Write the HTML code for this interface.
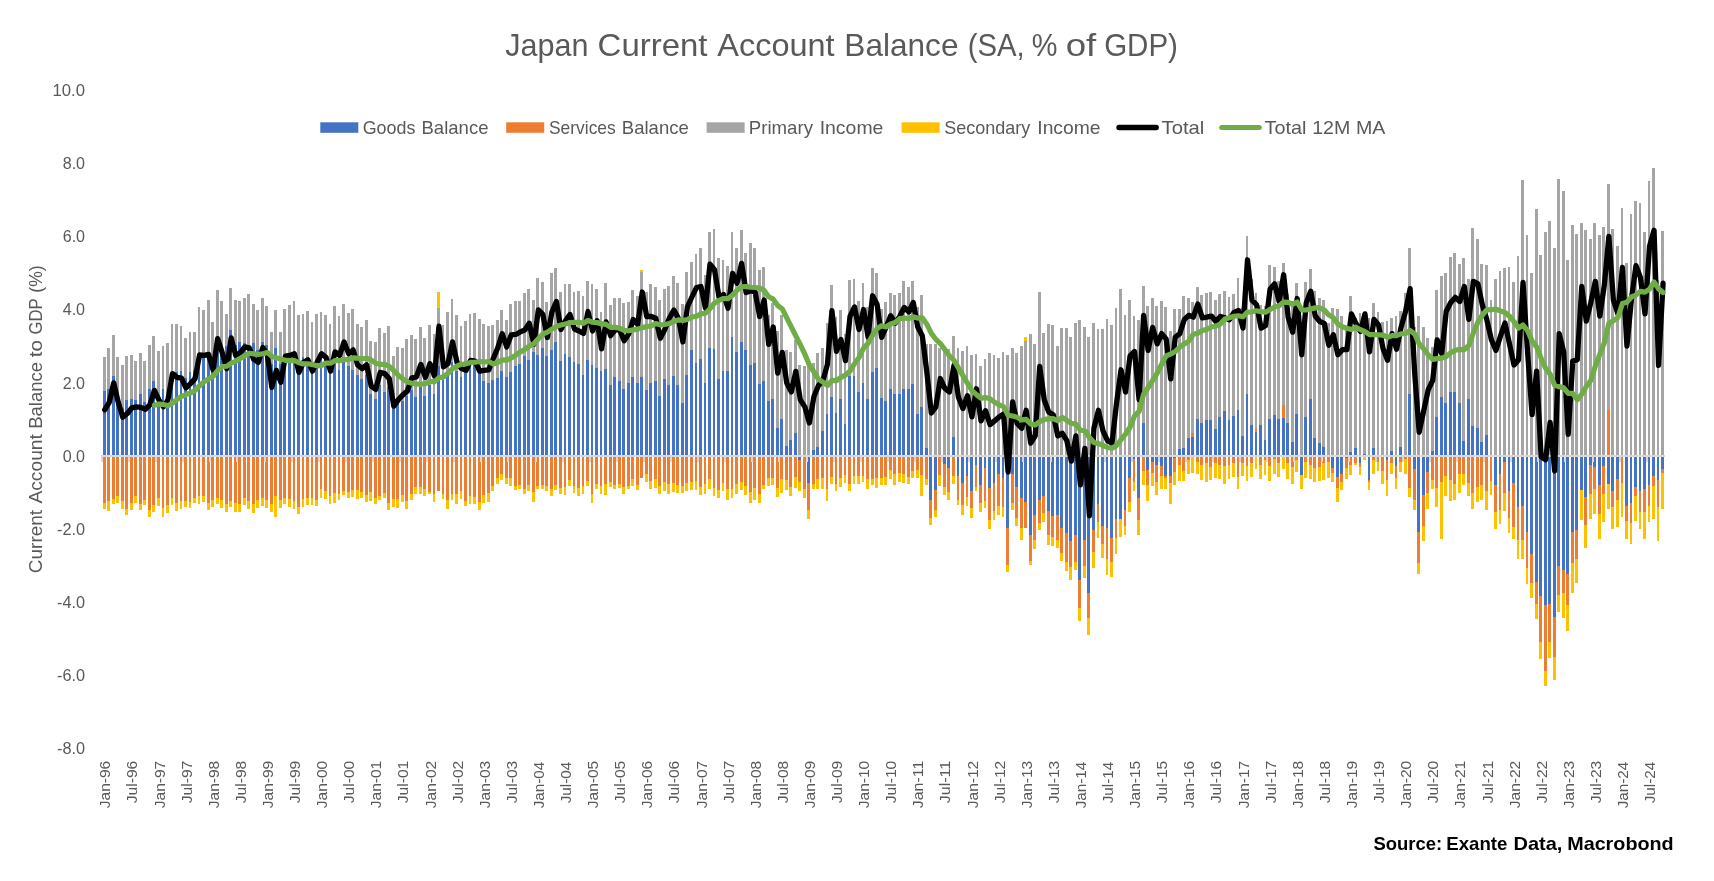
<!DOCTYPE html>
<html><head><meta charset="utf-8"><title>Japan Current Account Balance</title>
<style>
html,body{margin:0;padding:0;background:#fff;}
body{width:1714px;height:881px;overflow:hidden;font-family:"Liberation Sans",sans-serif;}
svg{display:block;font-family:"Liberation Sans",sans-serif;will-change:transform;}
</style></head><body>
<svg width="1714" height="881" viewBox="0 0 1714 881">
<rect width="1714" height="881" fill="#fff"/>
<g font-size="31.2" fill="#595959"><text x="505.2" y="56" textLength="83.22" lengthAdjust="spacingAndGlyphs">Japan</text><text x="597.64" y="56" textLength="109.9" lengthAdjust="spacingAndGlyphs">Current</text><text x="717.3" y="56" textLength="117.35" lengthAdjust="spacingAndGlyphs">Account</text><text x="844.38" y="56" textLength="114.09" lengthAdjust="spacingAndGlyphs">Balance</text><text x="967.66" y="56" textLength="57.05" lengthAdjust="spacingAndGlyphs">(SA,</text><text x="1031.77" y="56" textLength="25.7" lengthAdjust="spacingAndGlyphs">%</text><text x="1065.72" y="56" textLength="30.58" lengthAdjust="spacingAndGlyphs">of</text><text x="1104.15" y="56" textLength="73.76" lengthAdjust="spacingAndGlyphs">GDP)</text></g>
<g font-size="15.6" fill="#595959"><text x="52.53" y="96.25" textLength="32.52" lengthAdjust="spacingAndGlyphs">10.0</text><text x="62.7" y="169.33" textLength="22.36" lengthAdjust="spacingAndGlyphs">8.0</text><text x="62.7" y="242.41" textLength="22.36" lengthAdjust="spacingAndGlyphs">6.0</text><text x="62.7" y="315.49" textLength="22.36" lengthAdjust="spacingAndGlyphs">4.0</text><text x="62.7" y="388.57" textLength="22.36" lengthAdjust="spacingAndGlyphs">2.0</text><text x="62.7" y="461.65" textLength="22.36" lengthAdjust="spacingAndGlyphs">0.0</text><text x="57" y="534.73" textLength="28.06" lengthAdjust="spacingAndGlyphs">-2.0</text><text x="57" y="607.81" textLength="28.06" lengthAdjust="spacingAndGlyphs">-4.0</text><text x="57" y="680.89" textLength="28.06" lengthAdjust="spacingAndGlyphs">-6.0</text><text x="57" y="753.97" textLength="28.06" lengthAdjust="spacingAndGlyphs">-8.0</text></g>
<g transform="translate(41.7 573.4) rotate(-90)" font-size="17.7" fill="#595959"><text x="0.2" y="0" textLength="63.31" lengthAdjust="spacingAndGlyphs">Current</text><text x="69.9" y="0" textLength="69.31" lengthAdjust="spacingAndGlyphs">Account</text><text x="144.55" y="0" textLength="66.98" lengthAdjust="spacingAndGlyphs">Balance</text><text x="216.1" y="0" textLength="17.21" lengthAdjust="spacingAndGlyphs">to</text><text x="238.9" y="0" textLength="36.25" lengthAdjust="spacingAndGlyphs">GDP</text><text x="280.7" y="0" textLength="27.38" lengthAdjust="spacingAndGlyphs">(%)</text></g>
<g font-size="19" fill="#595959"><rect x="320.3" y="122.3" width="38" height="10.5" fill="#4472C4"/><rect x="506.2" y="122.3" width="38" height="10.5" fill="#ED7D31"/><rect x="706.6" y="122.3" width="38" height="10.5" fill="#A5A5A5"/><rect x="901.6" y="122.3" width="38" height="10.5" fill="#FFC000"/><path d="M1119 127.5h37.2" stroke="#000" stroke-width="5.4" stroke-linecap="round" fill="none"/><path d="M1221.7 127.5h37.6" stroke="#70AD47" stroke-width="5" stroke-linecap="round" fill="none"/><text x="362.7" y="134.3" textLength="52.77" lengthAdjust="spacingAndGlyphs">Goods</text><text x="421.53" y="134.3" textLength="66.93" lengthAdjust="spacingAndGlyphs">Balance</text><text x="549" y="134.3" textLength="66.76" lengthAdjust="spacingAndGlyphs">Services</text><text x="621.83" y="134.3" textLength="66.93" lengthAdjust="spacingAndGlyphs">Balance</text><text x="748.82" y="134.3" textLength="64.19" lengthAdjust="spacingAndGlyphs">Primary</text><text x="819.68" y="134.3" textLength="63.7" lengthAdjust="spacingAndGlyphs">Income</text><text x="944.2" y="134.3" textLength="86.13" lengthAdjust="spacingAndGlyphs">Secondary</text><text x="1037.28" y="134.3" textLength="63.29" lengthAdjust="spacingAndGlyphs">Income</text><text x="1161.5" y="134.3" textLength="42.8" lengthAdjust="spacingAndGlyphs">Total</text><text x="1264.5" y="134.3" textLength="41.87" lengthAdjust="spacingAndGlyphs">Total</text><text x="1312.17" y="134.3" textLength="38.08" lengthAdjust="spacingAndGlyphs">12M</text><text x="1355.97" y="134.3" textLength="29.39" lengthAdjust="spacingAndGlyphs">MA</text></g>
<path d="M103 391h3V456h-3zM107 389h3V456h-3zM112 376h3V456h-3zM116 400h3V456h-3zM121 408h3V456h-3zM125 400h3V456h-3zM130 399h3V456h-3zM134 400h3V456h-3zM139 394h3V456h-3zM143 402h3V456h-3zM148 389h3V456h-3zM152 381h3V456h-3zM157 395h3V456h-3zM162 389h2V456h-2zM166 399h3V456h-3zM171 375h2V456h-2zM175 372h3V456h-3zM180 371h2V456h-2zM184 378h3V456h-3zM189 372h2V456h-2zM193 370h3V456h-3zM198 355h2V456h-2zM202 357h3V456h-3zM207 353h3V456h-3zM211 365h3V456h-3zM216 340h3V456h-3zM220 350h3V456h-3zM225 346h3V456h-3zM229 330h3V456h-3zM234 345h3V456h-3zM238 342h3V456h-3zM243 343h3V456h-3zM247 347h3V456h-3zM252 343h3V456h-3zM256 350h3V456h-3zM261 342h3V456h-3zM265 345h3V456h-3zM270 364h3V456h-3zM274 348h3V456h-3zM279 364h3V456h-3zM283 357h3V456h-3zM288 357h3V456h-3zM293 355h2V456h-2zM297 360h3V456h-3zM302 357h2V456h-2zM306 357h3V456h-3zM311 365h2V456h-2zM315 362h3V456h-3zM320 357h2V456h-2zM324 360h3V456h-3zM329 365h2V456h-2zM333 355h3V456h-3zM338 370h2V456h-2zM342 362h3V456h-3zM347 366h3V456h-3zM351 370h3V456h-3zM356 375h3V456h-3zM360 379h3V456h-3zM365 375h3V456h-3zM369 394h3V456h-3zM374 399h3V456h-3zM378 385h3V456h-3zM383 392h3V456h-3zM387 387h3V456h-3zM392 405h3V456h-3zM396 404h3V456h-3zM401 401h3V456h-3zM405 396h3V456h-3zM410 390h3V456h-3zM414 397h3V456h-3zM419 387h3V456h-3zM423 396h3V456h-3zM428 385h3V456h-3zM433 394h2V456h-2zM437 366h3V456h-3zM442 380h2V456h-2zM446 371h3V456h-3zM451 362h2V456h-2zM455 371h3V456h-3zM460 377h2V456h-2zM464 372h3V456h-3zM469 365h2V456h-2zM473 364h3V456h-3zM478 370h3V456h-3zM482 381h3V456h-3zM487 383h3V456h-3zM491 380h3V456h-3zM496 378h3V456h-3zM500 371h3V456h-3zM505 377h3V456h-3zM509 372h3V456h-3zM514 366h3V456h-3zM518 364h3V456h-3zM523 356h3V456h-3zM527 360h3V456h-3zM532 352h3V456h-3zM536 355h3V456h-3zM541 348h3V456h-3zM545 356h3V456h-3zM550 350h3V456h-3zM554 342h3V456h-3zM559 361h3V456h-3zM564 354h2V456h-2zM568 357h3V456h-3zM573 362h2V456h-2zM577 364h3V456h-3zM582 375h2V456h-2zM586 360h3V456h-3zM591 365h2V456h-2zM595 368h3V456h-3zM600 371h2V456h-2zM604 369h3V456h-3zM609 385h3V456h-3zM613 377h3V456h-3zM618 381h3V456h-3zM622 389h3V456h-3zM627 383h3V456h-3zM631 377h3V456h-3zM636 383h3V456h-3zM640 377h3V456h-3zM645 390h3V456h-3zM649 383h3V456h-3zM654 381h3V456h-3zM658 396h3V456h-3zM663 379h3V456h-3zM667 385h3V456h-3zM672 376h3V456h-3zM676 385h3V456h-3zM681 403h3V456h-3zM685 375h3V456h-3zM690 350h3V456h-3zM695 363h2V456h-2zM699 359h3V456h-3zM704 383h2V456h-2zM708 348h3V456h-3zM713 349h2V456h-2zM717 379h3V456h-3zM722 371h2V456h-2zM726 371h3V456h-3zM731 337h2V456h-2zM735 352h3V456h-3zM740 342h3V456h-3zM744 350h3V456h-3zM749 365h3V456h-3zM753 363h3V456h-3zM758 384h3V456h-3zM762 381h3V456h-3zM767 401h3V456h-3zM771 399h3V456h-3zM776 428h3V456h-3zM780 419h3V456h-3zM785 446h3V456h-3zM789 440h3V456h-3zM794 433h3V456h-3zM798 456h3V460h-3zM807 456h3V483h-3zM812 450h3V456h-3zM816 447h3V456h-3zM821 431h3V456h-3zM826 414h2V456h-2zM830 397h3V456h-3zM835 413h2V456h-2zM839 399h3V456h-3zM844 424h2V456h-2zM848 376h3V456h-3zM853 376h2V456h-2zM857 392h3V456h-3zM862 383h2V456h-2zM866 399h3V456h-3zM871 372h3V456h-3zM875 368h3V456h-3zM880 398h3V456h-3zM884 401h3V456h-3zM889 389h3V456h-3zM893 394h3V456h-3zM898 394h3V456h-3zM902 389h3V456h-3zM907 389h3V456h-3zM911 384h3V456h-3zM916 414h3V456h-3zM920 407h3V456h-3zM925 448h3V456h-3zM929 456h3V500h-3zM934 456h3V490h-3zM943 456h3V464h-3zM947 456h3V468h-3zM952 437h3V456h-3zM957 456h2V476h-2zM961 456h3V483h-3zM966 456h2V476h-2zM970 456h3V491h-3zM975 456h2V465h-2zM979 456h3V485h-3zM984 456h2V468h-2zM988 456h3V488h-3zM993 456h2V483h-2zM997 456h3V474h-3zM1002 456h2V478h-2zM1006 456h3V528h-3zM1011 456h3V474h-3zM1015 456h3V487h-3zM1020 456h3V498h-3zM1024 456h3V502h-3zM1029 456h3V535h-3zM1033 456h3V515h-3zM1038 456h3V500h-3zM1042 456h3V496h-3zM1047 456h3V511h-3zM1051 456h3V516h-3zM1056 456h3V515h-3zM1060 456h3V528h-3zM1065 456h3V533h-3zM1069 456h3V541h-3zM1074 456h3V535h-3zM1078 456h3V580h-3zM1083 456h3V540h-3zM1087 456h3V593h-3zM1092 456h3V530h-3zM1097 456h2V504h-2zM1101 456h3V526h-3zM1106 456h2V528h-2zM1110 456h3V538h-3zM1115 456h2V519h-2zM1119 456h3V519h-3zM1124 456h2V510h-2zM1128 456h3V478h-3zM1133 456h2V459h-2zM1137 456h3V498h-3zM1142 423h3V456h-3zM1146 456h3V470h-3zM1151 456h3V462h-3zM1155 456h3V465h-3zM1160 456h3V466h-3zM1164 456h3V476h-3zM1169 456h3V476h-3zM1173 456h3V458h-3zM1178 449h3V456h-3zM1182 448h3V456h-3zM1187 438h3V456h-3zM1191 437h3V456h-3zM1196 419h3V456h-3zM1200 423h3V456h-3zM1205 420h3V456h-3zM1209 420h3V456h-3zM1214 429h3V456h-3zM1218 417h3V456h-3zM1223 411h3V456h-3zM1228 420h2V456h-2zM1232 416h3V456h-3zM1237 410h2V456h-2zM1241 436h3V456h-3zM1246 394h2V456h-2zM1250 425h3V456h-3zM1255 432h2V456h-2zM1259 425h3V456h-3zM1264 440h2V456h-2zM1268 419h3V456h-3zM1273 415h3V456h-3zM1277 419h3V456h-3zM1282 418h3V456h-3zM1286 423h3V456h-3zM1291 442h3V456h-3zM1295 414h3V456h-3zM1300 456h3V475h-3zM1304 417h3V456h-3zM1309 399h3V456h-3zM1313 438h3V456h-3zM1318 443h3V456h-3zM1322 447h3V456h-3zM1331 456h3V468h-3zM1336 456h3V477h-3zM1340 456h3V474h-3zM1345 456h3V458h-3zM1349 452h3V456h-3zM1354 448h3V456h-3zM1359 456h2V463h-2zM1363 454h3V456h-3zM1368 456h2V480h-2zM1372 448h3V456h-3zM1386 456h2V460h-2zM1390 451h3V456h-3zM1395 456h2V466h-2zM1399 447h3V456h-3zM1408 394h3V456h-3zM1413 456h3V469h-3zM1417 456h3V532h-3zM1422 456h3V495h-3zM1426 456h3V472h-3zM1431 451h3V456h-3zM1435 417h3V456h-3zM1440 397h3V456h-3zM1444 403h3V456h-3zM1449 392h3V456h-3zM1453 392h3V456h-3zM1458 403h3V456h-3zM1462 441h3V456h-3zM1467 399h3V456h-3zM1471 426h3V456h-3zM1476 428h3V456h-3zM1480 442h3V456h-3zM1485 435h3V456h-3zM1494 456h3V485h-3zM1499 456h2V474h-2zM1503 456h3V462h-3zM1508 456h2V491h-2zM1512 456h3V483h-3zM1517 456h2V507h-2zM1521 456h3V506h-3zM1526 456h2V532h-2zM1530 456h3V554h-3zM1535 456h3V582h-3zM1539 456h3V596h-3zM1544 456h3V605h-3zM1548 456h3V604h-3zM1553 456h3V617h-3zM1557 456h3V566h-3zM1562 456h3V570h-3zM1566 456h3V574h-3zM1571 456h3V532h-3zM1575 456h3V530h-3zM1580 456h3V490h-3zM1584 456h3V497h-3zM1589 456h3V465h-3zM1593 456h3V467h-3zM1598 456h3V485h-3zM1602 456h3V466h-3zM1607 456h3V484h-3zM1611 456h3V491h-3zM1616 456h3V479h-3zM1625 456h3V506h-3zM1630 456h2V503h-2zM1634 456h3V487h-3zM1639 456h2V491h-2zM1643 456h3V489h-3zM1648 456h2V485h-2zM1652 456h3V476h-3zM1657 456h2V480h-2zM1661 456h3V469h-3z" fill="#4472C4" shape-rendering="crispEdges"/>
<path d="M103 456h3V503h-3zM107 456h3V501h-3zM112 456h3V499h-3zM116 456h3V496h-3zM121 456h3V501h-3zM125 456h3V509h-3zM130 456h3V503h-3zM134 456h3V496h-3zM139 456h3V504h-3zM143 456h3V500h-3zM148 456h3V510h-3zM152 456h3V505h-3zM157 456h3V498h-3zM162 456h2V508h-2zM166 456h3V505h-3zM171 456h2V498h-2zM175 456h3V503h-3zM180 456h2V501h-2zM184 456h3V501h-3zM189 456h2V502h-2zM193 456h3V498h-3zM198 456h2V496h-2zM202 456h3V496h-3zM207 456h3V503h-3zM211 456h3V500h-3zM216 456h3V498h-3zM220 456h3V500h-3zM225 456h3V504h-3zM229 456h3V501h-3zM234 456h3V503h-3zM238 456h3V504h-3zM243 456h3V498h-3zM247 456h3V501h-3zM252 456h3V504h-3zM256 456h3V500h-3zM261 456h3V498h-3zM265 456h3V500h-3zM270 456h3V504h-3zM274 456h3V496h-3zM279 456h3V500h-3zM283 456h3V498h-3zM288 456h3V499h-3zM293 456h2V501h-2zM297 456h3V507h-3zM302 456h2V499h-2zM306 456h3V498h-3zM311 456h2V498h-2zM315 456h3V500h-3zM320 456h2V489h-2zM324 456h3V491h-3zM329 456h2V496h-2zM333 456h3V493h-3zM338 456h2V494h-2zM342 456h3V491h-3zM347 456h3V492h-3zM351 456h3V490h-3zM356 456h3V490h-3zM360 456h3V492h-3zM365 456h3V495h-3zM369 456h3V492h-3zM374 456h3V498h-3zM378 456h3V496h-3zM383 456h3V493h-3zM387 456h3V503h-3zM392 456h3V499h-3zM396 456h3V499h-3zM401 456h3V495h-3zM405 456h3V501h-3zM410 456h3V494h-3zM414 456h3V487h-3zM419 456h3V487h-3zM423 456h3V489h-3zM428 456h3V492h-3zM433 456h2V494h-2zM437 456h3V491h-3zM442 456h2V494h-2zM446 456h3V500h-3zM451 456h2V494h-2zM455 456h3V494h-3zM460 456h2V491h-2zM464 456h3V501h-3zM469 456h2V496h-2zM473 456h3V497h-3zM478 456h3V502h-3zM482 456h3V495h-3zM487 456h3V493h-3zM491 456h3V486h-3zM496 456h3V478h-3zM500 456h3V474h-3zM505 456h3V478h-3zM509 456h3V478h-3zM514 456h3V486h-3zM518 456h3V485h-3zM523 456h3V489h-3zM527 456h3V485h-3zM532 456h3V492h-3zM536 456h3V486h-3zM541 456h3V485h-3zM545 456h3V486h-3zM550 456h3V489h-3zM554 456h3V485h-3zM559 456h3V488h-3zM564 456h2V487h-2zM568 456h3V480h-3zM573 456h2V486h-2zM577 456h3V488h-3zM582 456h2V486h-2zM586 456h3V481h-3zM591 456h2V494h-2zM595 456h3V484h-3zM600 456h2V486h-2zM604 456h3V484h-3zM609 456h3V482h-3zM613 456h3V485h-3zM618 456h3V484h-3zM622 456h3V487h-3zM627 456h3V486h-3zM631 456h3V479h-3zM636 456h3V485h-3zM640 456h3V478h-3zM645 456h3V474h-3zM649 456h3V481h-3zM654 456h3V479h-3zM658 456h3V486h-3zM663 456h3V482h-3zM667 456h3V484h-3zM672 456h3V483h-3zM676 456h3V485h-3zM681 456h3V486h-3zM685 456h3V483h-3zM690 456h3V482h-3zM695 456h2V481h-2zM699 456h3V487h-3zM704 456h2V484h-2zM708 456h3V479h-3zM713 456h2V488h-2zM717 456h3V490h-3zM722 456h2V483h-2zM726 456h3V489h-3zM731 456h2V489h-2zM735 456h3V484h-3zM740 456h3V482h-3zM744 456h3V486h-3zM749 456h3V492h-3zM753 456h3V488h-3zM758 456h3V494h-3zM762 456h3V485h-3zM767 456h3V478h-3zM771 456h3V478h-3zM776 456h3V488h-3zM780 456h3V479h-3zM785 456h3V480h-3zM789 456h3V487h-3zM794 456h3V477h-3zM798 460h3V482h-3zM803 456h3V489h-3zM807 483h3V510h-3zM812 456h3V484h-3zM816 456h3V479h-3zM821 456h3V478h-3zM826 456h2V489h-2zM830 456h3V477h-3zM835 456h2V484h-2zM839 456h3V478h-3zM844 456h2V475h-2zM848 456h3V484h-3zM853 456h2V476h-2zM857 456h3V476h-3zM862 456h2V476h-2zM866 456h3V479h-3zM871 456h3V479h-3zM875 456h3V478h-3zM880 456h3V478h-3zM884 456h3V477h-3zM889 456h3V470h-3zM893 456h3V474h-3zM898 456h3V473h-3zM902 456h3V474h-3zM907 456h3V477h-3zM911 456h3V471h-3zM916 456h3V470h-3zM920 456h3V475h-3zM925 456h3V479h-3zM929 500h3V518h-3zM934 490h3V510h-3zM938 456h3V475h-3zM943 464h3V487h-3zM947 468h3V492h-3zM952 456h3V476h-3zM957 476h2V500h-2zM961 483h3V505h-3zM966 476h2V497h-2zM970 491h3V508h-3zM975 465h2V487h-2zM979 485h3V503h-3zM984 468h2V501h-2zM988 488h3V520h-3zM993 483h2V511h-2zM997 474h3V506h-3zM1002 478h2V507h-2zM1006 528h3V565h-3zM1011 474h3V503h-3zM1015 487h3V518h-3zM1020 498h3V528h-3zM1024 502h3V528h-3zM1029 535h3V561h-3zM1033 515h3V540h-3zM1038 500h3V523h-3zM1042 496h3V513h-3zM1047 511h3V535h-3zM1051 516h3V537h-3zM1056 515h3V540h-3zM1060 528h3V553h-3zM1065 533h3V562h-3zM1069 541h3V567h-3zM1074 535h3V562h-3zM1078 580h3V608h-3zM1083 540h3V566h-3zM1087 593h3V618h-3zM1092 530h3V552h-3zM1097 504h2V522h-2zM1101 526h3V544h-3zM1106 528h2V559h-2zM1110 538h3V562h-3zM1115 519h2V538h-2zM1124 510h2V526h-2zM1128 478h3V502h-3zM1133 459h2V482h-2zM1137 498h3V520h-3zM1142 456h3V471h-3zM1146 470h3V485h-3zM1151 462h3V473h-3zM1155 465h3V482h-3zM1160 466h3V476h-3zM1164 476h3V478h-3zM1169 476h3V483h-3zM1173 458h3V472h-3zM1178 456h3V465h-3zM1182 456h3V471h-3zM1187 456h3V460h-3zM1191 433h3V437h-3zM1196 456h3V462h-3zM1200 456h3V465h-3zM1205 456h3V463h-3zM1209 456h3V467h-3zM1214 456h3V463h-3zM1218 456h3V465h-3zM1223 456h3V466h-3zM1228 456h2V465h-2zM1232 456h3V463h-3zM1237 456h2V477h-2zM1241 456h3V463h-3zM1246 456h2V466h-2zM1250 456h3V463h-3zM1255 428h2V432h-2zM1259 456h3V465h-3zM1264 456h2V460h-2zM1268 456h3V466h-3zM1273 456h3V459h-3zM1277 456h3V463h-3zM1282 405h3V418h-3zM1286 456h3V463h-3zM1291 456h3V467h-3zM1295 456h3V460h-3zM1304 456h3V462h-3zM1309 456h3V465h-3zM1313 456h3V468h-3zM1318 456h3V467h-3zM1322 456h3V463h-3zM1327 456h3V462h-3zM1331 468h3V473h-3zM1336 477h3V488h-3zM1340 474h3V482h-3zM1345 458h3V468h-3zM1349 456h3V465h-3zM1354 456h3V463h-3zM1359 463h2V467h-2zM1368 480h2V482h-2zM1372 456h3V460h-3zM1377 456h2V462h-2zM1381 456h3V471h-3zM1386 460h2V480h-2zM1390 456h3V463h-3zM1395 466h2V478h-2zM1399 456h3V462h-3zM1404 456h3V459h-3zM1408 456h3V488h-3zM1413 469h3V500h-3zM1417 532h3V563h-3zM1422 495h3V526h-3zM1426 472h3V493h-3zM1431 456h3V480h-3zM1435 456h3V488h-3zM1440 456h3V482h-3zM1444 456h3V476h-3zM1449 456h3V480h-3zM1453 456h3V484h-3zM1458 456h3V474h-3zM1462 456h3V474h-3zM1467 456h3V483h-3zM1471 456h3V493h-3zM1476 456h3V487h-3zM1480 456h3V485h-3zM1485 456h3V491h-3zM1490 456h2V481h-2zM1494 485h3V512h-3zM1499 474h2V510h-2zM1503 462h3V493h-3zM1508 491h2V518h-2zM1512 483h3V527h-3zM1517 507h2V540h-2zM1521 506h3V540h-3zM1526 532h2V568h-2zM1530 554h3V583h-3zM1535 582h3V604h-3zM1539 596h3V642h-3zM1544 605h3V671h-3zM1548 604h3V642h-3zM1553 617h3V657h-3zM1557 566h3V595h-3zM1562 570h3V593h-3zM1566 574h3V605h-3zM1571 532h3V563h-3zM1575 530h3V559h-3zM1584 497h3V525h-3zM1589 465h3V494h-3zM1593 467h3V489h-3zM1598 485h3V514h-3zM1602 466h3V494h-3zM1607 410h3V456h-3zM1611 491h3V507h-3zM1616 479h3V500h-3zM1621 456h2V483h-2zM1625 506h3V521h-3zM1630 503h2V523h-2zM1634 487h3V496h-3zM1639 491h2V512h-2zM1643 489h3V512h-3zM1648 485h2V506h-2zM1652 476h3V486h-3zM1657 480h2V507h-2zM1661 469h3V473h-3z" fill="#ED7D31" shape-rendering="crispEdges"/>
<path d="M103 357h3V391h-3zM107 348h3V389h-3zM112 335h3V376h-3zM116 357h3V400h-3zM121 365h3V408h-3zM125 356h3V400h-3zM130 355h3V399h-3zM134 361h3V400h-3zM139 353h3V394h-3zM143 361h3V402h-3zM148 345h3V389h-3zM152 336h3V381h-3zM157 351h3V395h-3zM162 346h2V389h-2zM166 343h3V399h-3zM171 324h2V375h-2zM175 324h3V372h-3zM180 326h2V371h-2zM184 338h3V378h-3zM189 332h2V372h-2zM193 332h3V370h-3zM198 307h2V355h-2zM202 310h3V357h-3zM207 300h3V353h-3zM211 322h3V365h-3zM216 290h3V340h-3zM220 301h3V350h-3zM225 314h3V346h-3zM229 288h3V330h-3zM234 300h3V345h-3zM238 301h3V342h-3zM243 298h3V343h-3zM247 294h3V347h-3zM252 304h3V343h-3zM256 310h3V350h-3zM261 298h3V342h-3zM265 306h3V345h-3zM270 332h3V364h-3zM274 310h3V348h-3zM279 332h3V364h-3zM283 309h3V357h-3zM288 305h3V357h-3zM293 301h2V355h-2zM297 315h3V360h-3zM302 314h2V357h-2zM306 311h3V357h-3zM311 322h2V365h-2zM315 314h3V362h-3zM320 312h2V357h-2zM324 315h3V360h-3zM329 324h2V365h-2zM333 306h3V355h-3zM338 316h2V370h-2zM342 304h3V362h-3zM347 313h3V366h-3zM351 309h3V370h-3zM356 324h3V375h-3zM360 327h3V379h-3zM365 320h3V375h-3zM369 341h3V394h-3zM374 342h3V399h-3zM378 328h3V385h-3zM383 333h3V392h-3zM387 326h3V387h-3zM392 356h3V405h-3zM396 347h3V404h-3zM401 348h3V401h-3zM405 339h3V396h-3zM410 335h3V390h-3zM414 339h3V397h-3zM419 327h3V387h-3zM423 338h3V396h-3zM428 325h3V385h-3zM433 334h2V394h-2zM437 307h3V366h-3zM442 325h2V380h-2zM446 312h3V371h-3zM451 299h2V362h-2zM455 315h3V371h-3zM460 326h2V377h-2zM464 321h3V372h-3zM469 314h2V365h-2zM473 313h3V364h-3zM478 319h3V370h-3zM482 324h3V381h-3zM487 326h3V383h-3zM491 325h3V380h-3zM496 320h3V378h-3zM500 310h3V371h-3zM505 320h3V377h-3zM509 304h3V372h-3zM514 301h3V366h-3zM518 301h3V364h-3zM523 293h3V356h-3zM527 289h3V360h-3zM532 300h3V352h-3zM536 278h3V355h-3zM541 282h3V348h-3zM545 302h3V356h-3zM550 273h3V350h-3zM554 268h3V342h-3zM559 292h3V361h-3zM564 284h2V354h-2zM568 284h3V357h-3zM573 292h2V362h-2zM577 291h3V364h-3zM582 296h2V375h-2zM586 281h3V360h-3zM591 284h2V365h-2zM595 289h3V368h-3zM600 312h2V371h-2zM604 283h3V369h-3zM609 305h3V385h-3zM613 298h3V377h-3zM618 298h3V381h-3zM622 303h3V389h-3zM627 302h3V383h-3zM631 290h3V377h-3zM636 296h3V383h-3zM640 271h3V377h-3zM645 292h3V390h-3zM649 284h3V383h-3zM654 287h3V381h-3zM658 300h3V396h-3zM663 289h3V379h-3zM667 286h3V385h-3zM672 276h3V376h-3zM676 283h3V385h-3zM681 304h3V403h-3zM685 272h3V375h-3zM690 262h3V350h-3zM695 254h2V363h-2zM699 248h3V359h-3zM704 275h2V383h-2zM708 232h3V348h-3zM713 229h2V349h-2zM717 258h3V379h-3zM722 260h2V371h-2zM726 266h3V371h-3zM731 232h2V337h-2zM735 248h3V352h-3zM740 230h3V342h-3zM744 253h3V350h-3zM749 243h3V365h-3zM753 248h3V363h-3zM758 270h3V384h-3zM762 267h3V381h-3zM767 315h3V401h-3zM771 303h3V399h-3zM776 331h3V428h-3zM780 315h3V419h-3zM785 350h3V446h-3zM789 352h3V440h-3zM794 340h3V433h-3zM798 365h3V456h-3zM803 366h3V456h-3zM807 360h3V456h-3zM812 363h3V450h-3zM816 353h3V447h-3zM821 348h3V431h-3zM826 323h2V414h-2zM830 285h3V397h-3zM835 317h2V413h-2zM839 310h3V399h-3zM844 334h2V424h-2zM848 280h3V376h-3zM853 279h2V376h-2zM857 301h3V392h-3zM862 283h2V383h-2zM866 307h3V399h-3zM871 268h3V372h-3zM875 273h3V368h-3zM880 309h3V398h-3zM884 302h3V401h-3zM889 293h3V389h-3zM893 295h3V394h-3zM898 293h3V394h-3zM902 281h3V389h-3zM907 287h3V389h-3zM911 281h3V384h-3zM916 307h3V414h-3zM920 295h3V407h-3zM925 344h3V448h-3zM929 344h3V456h-3zM934 344h3V456h-3zM938 348h3V456h-3zM943 349h3V456h-3zM947 349h3V456h-3zM952 336h3V437h-3zM957 348h2V456h-2zM961 351h3V456h-3zM966 346h2V456h-2zM970 355h3V456h-3zM975 354h2V456h-2zM979 366h3V456h-3zM984 359h2V456h-2zM988 353h3V456h-3zM993 355h2V456h-2zM997 358h3V456h-3zM1002 352h2V456h-2zM1006 355h3V456h-3zM1011 348h3V456h-3zM1015 353h3V456h-3zM1020 346h3V456h-3zM1024 340h3V456h-3zM1029 334h3V456h-3zM1033 344h3V456h-3zM1038 292h3V456h-3zM1042 333h3V456h-3zM1047 324h3V456h-3zM1051 325h3V456h-3zM1056 346h3V456h-3zM1060 328h3V456h-3zM1065 328h3V456h-3zM1069 337h3V456h-3zM1074 323h3V456h-3zM1078 320h3V456h-3zM1083 327h3V456h-3zM1087 337h3V456h-3zM1092 323h3V456h-3zM1097 329h2V456h-2zM1101 329h3V456h-3zM1106 319h2V456h-2zM1110 325h3V456h-3zM1115 308h2V456h-2zM1119 289h3V456h-3zM1124 315h2V456h-2zM1128 300h3V456h-3zM1133 316h2V456h-2zM1137 320h3V456h-3zM1142 286h3V423h-3zM1146 306h3V456h-3zM1151 298h3V456h-3zM1155 306h3V456h-3zM1160 301h3V456h-3zM1164 307h3V456h-3zM1169 331h3V456h-3zM1173 309h3V456h-3zM1178 309h3V449h-3zM1182 296h3V448h-3zM1187 298h3V438h-3zM1191 302h3V433h-3zM1196 287h3V419h-3zM1200 295h3V423h-3zM1205 293h3V420h-3zM1209 292h3V420h-3zM1214 300h3V429h-3zM1218 294h3V417h-3zM1223 291h3V411h-3zM1228 297h2V420h-2zM1232 294h3V416h-3zM1237 278h2V410h-2zM1241 308h3V436h-3zM1246 236h2V394h-2zM1250 279h3V425h-3zM1255 293h2V428h-2zM1259 305h3V425h-3zM1264 306h2V440h-2zM1268 265h3V419h-3zM1273 267h3V415h-3zM1277 281h3V419h-3zM1282 263h3V405h-3zM1286 294h3V423h-3zM1291 304h3V442h-3zM1295 283h3V414h-3zM1300 322h3V456h-3zM1304 282h3V417h-3zM1309 269h3V399h-3zM1313 291h3V438h-3zM1318 298h3V443h-3zM1322 300h3V447h-3zM1327 323h3V456h-3zM1331 308h3V456h-3zM1336 309h3V456h-3zM1340 316h3V456h-3zM1345 327h3V456h-3zM1349 296h3V452h-3zM1354 318h3V448h-3zM1359 313h2V456h-2zM1363 315h3V454h-3zM1368 318h2V456h-2zM1372 303h3V448h-3zM1377 312h2V456h-2zM1381 322h3V456h-3zM1386 321h2V456h-2zM1390 318h3V451h-3zM1395 316h2V456h-2zM1399 311h3V447h-3zM1404 293h3V456h-3zM1408 248h3V394h-3zM1413 327h3V456h-3zM1417 316h3V456h-3zM1422 327h3V456h-3zM1426 338h3V456h-3zM1431 347h3V451h-3zM1435 290h3V417h-3zM1440 276h3V397h-3zM1444 273h3V403h-3zM1449 257h3V392h-3zM1453 253h3V392h-3zM1458 264h3V403h-3zM1462 258h3V441h-3zM1467 279h3V399h-3zM1471 228h3V426h-3zM1476 239h3V428h-3zM1480 264h3V442h-3zM1485 265h3V435h-3zM1490 300h2V456h-2zM1494 279h3V456h-3zM1499 271h2V456h-2zM1503 268h3V456h-3zM1508 267h2V456h-2zM1512 282h3V456h-3zM1517 256h2V456h-2zM1521 180h3V456h-3zM1526 235h2V456h-2zM1530 273h3V456h-3zM1535 209h3V456h-3zM1539 255h3V456h-3zM1544 232h3V456h-3zM1548 221h3V456h-3zM1553 248h3V456h-3zM1557 179h3V456h-3zM1562 191h3V456h-3zM1566 260h3V456h-3zM1571 225h3V456h-3zM1575 234h3V456h-3zM1580 223h3V456h-3zM1584 230h3V456h-3zM1589 239h3V456h-3zM1593 223h3V456h-3zM1598 235h3V456h-3zM1602 227h3V456h-3zM1607 184h3V410h-3zM1611 229h3V456h-3zM1616 246h3V456h-3zM1621 208h2V456h-2zM1625 263h3V456h-3zM1630 214h2V456h-2zM1634 201h3V456h-3zM1639 203h2V456h-2zM1643 232h3V456h-3zM1648 181h2V456h-2zM1652 168h3V456h-3zM1657 280h2V456h-2zM1661 231h3V456h-3z" fill="#A5A5A5" shape-rendering="crispEdges"/>
<path d="M103 503h3V509h-3zM107 501h3V511h-3zM112 499h3V504h-3zM116 496h3V503h-3zM121 501h3V509h-3zM125 509h3V515h-3zM130 503h3V510h-3zM134 496h3V503h-3zM139 504h3V510h-3zM143 500h3V505h-3zM148 510h3V517h-3zM152 505h3V512h-3zM157 498h3V506h-3zM162 508h2V517h-2zM166 505h3V513h-3zM171 498h2V505h-2zM175 503h3V511h-3zM180 501h2V509h-2zM184 501h3V507h-3zM189 502h2V508h-2zM193 498h3V503h-3zM198 496h2V504h-2zM202 496h3V502h-3zM207 503h3V510h-3zM211 500h3V507h-3zM216 498h3V504h-3zM220 500h3V508h-3zM225 504h3V512h-3zM229 501h3V507h-3zM234 503h3V512h-3zM238 504h3V512h-3zM243 498h3V505h-3zM247 501h3V509h-3zM252 504h3V513h-3zM256 500h3V508h-3zM261 498h3V506h-3zM265 500h3V508h-3zM270 504h3V512h-3zM274 496h3V517h-3zM279 500h3V508h-3zM283 498h3V504h-3zM288 499h3V507h-3zM293 501h2V509h-2zM297 507h3V514h-3zM302 499h2V507h-2zM306 498h3V505h-3zM311 498h2V505h-2zM315 500h3V506h-3zM320 489h2V498h-2zM324 491h3V499h-3zM329 496h2V504h-2zM333 493h3V503h-3zM338 494h2V500h-2zM342 491h3V495h-3zM347 492h3V498h-3zM351 490h3V497h-3zM356 490h3V499h-3zM360 492h3V498h-3zM365 495h3V502h-3zM369 492h3V501h-3zM374 498h3V504h-3zM378 496h3V500h-3zM383 493h3V498h-3zM387 503h3V510h-3zM392 499h3V507h-3zM396 499h3V508h-3zM401 495h3V502h-3zM405 501h3V509h-3zM410 494h3V500h-3zM414 487h3V494h-3zM419 487h3V494h-3zM423 489h3V496h-3zM428 492h3V494h-3zM433 494h2V502h-2zM437 292h3V308h-3zM442 494h2V499h-2zM446 500h3V509h-3zM451 494h2V500h-2zM455 494h3V504h-3zM460 491h2V499h-2zM464 501h3V506h-3zM469 496h2V504h-2zM473 497h3V504h-3zM478 502h3V510h-3zM482 495h3V503h-3zM487 493h3V502h-3zM491 486h3V491h-3zM496 478h3V484h-3zM500 474h3V480h-3zM505 478h3V484h-3zM509 478h3V486h-3zM514 486h3V490h-3zM518 485h3V489h-3zM523 489h3V494h-3zM527 485h3V491h-3zM532 492h3V502h-3zM536 486h3V489h-3zM541 485h3V489h-3zM545 486h3V491h-3zM550 489h3V496h-3zM554 485h3V490h-3zM559 488h3V494h-3zM564 487h2V495h-2zM568 480h3V486h-3zM573 486h2V493h-2zM577 488h3V496h-3zM582 486h2V494h-2zM586 481h3V486h-3zM591 494h2V503h-2zM595 484h3V489h-3zM600 486h2V494h-2zM604 484h3V495h-3zM609 482h3V487h-3zM613 485h3V489h-3zM618 484h3V488h-3zM622 487h3V494h-3zM627 486h3V489h-3zM631 479h3V486h-3zM636 485h3V490h-3zM640 270h3V272h-3zM645 474h3V482h-3zM649 481h3V489h-3zM654 479h3V488h-3zM658 486h3V494h-3zM663 482h3V491h-3zM667 484h3V494h-3zM672 483h3V492h-3zM676 485h3V493h-3zM681 486h3V493h-3zM685 483h3V491h-3zM690 482h3V490h-3zM695 481h2V490h-2zM699 487h3V495h-3zM704 484h2V494h-2zM708 479h3V489h-3zM713 488h2V496h-2zM717 490h3V498h-3zM722 483h2V491h-2zM726 489h3V500h-3zM731 489h2V498h-2zM735 484h3V494h-3zM740 482h3V490h-3zM744 486h3V495h-3zM749 492h3V503h-3zM753 488h3V500h-3zM758 494h3V503h-3zM762 485h3V489h-3zM767 478h3V486h-3zM771 478h3V485h-3zM776 488h3V497h-3zM780 479h3V493h-3zM785 480h3V490h-3zM789 487h3V496h-3zM794 477h3V488h-3zM798 482h3V491h-3zM803 489h3V498h-3zM807 510h3V519h-3zM812 484h3V489h-3zM816 479h3V489h-3zM821 478h3V489h-3zM826 489h2V501h-2zM830 477h3V484h-3zM835 484h2V491h-2zM839 478h3V487h-3zM844 475h2V483h-2zM848 484h3V491h-3zM853 476h2V484h-2zM857 476h3V484h-3zM862 476h2V482h-2zM866 479h3V489h-3zM871 479h3V485h-3zM875 478h3V488h-3zM880 478h3V485h-3zM884 477h3V485h-3zM889 470h3V479h-3zM893 474h3V485h-3zM898 473h3V482h-3zM902 474h3V483h-3zM907 477h3V484h-3zM911 471h3V478h-3zM916 470h3V478h-3zM920 475h3V496h-3zM925 479h3V485h-3zM929 518h3V525h-3zM934 510h3V517h-3zM938 475h3V486h-3zM943 487h3V495h-3zM947 492h3V500h-3zM952 476h3V484h-3zM957 500h2V505h-2zM961 505h3V515h-3zM966 497h2V506h-2zM970 508h3V518h-3zM975 487h2V491h-2zM979 503h3V512h-3zM984 501h2V508h-2zM988 520h3V529h-3zM993 511h2V520h-2zM997 506h3V515h-3zM1002 507h2V517h-2zM1006 565h3V572h-3zM1011 503h3V510h-3zM1015 518h3V526h-3zM1020 528h3V540h-3zM1024 337h3V341h-3zM1029 561h3V565h-3zM1033 540h3V549h-3zM1038 523h3V530h-3zM1042 513h3V522h-3zM1047 535h3V545h-3zM1051 537h3V546h-3zM1056 540h3V548h-3zM1060 553h3V561h-3zM1065 562h3V571h-3zM1069 567h3V580h-3zM1074 562h3V570h-3zM1078 608h3V621h-3zM1083 566h3V578h-3zM1087 618h3V635h-3zM1092 552h3V568h-3zM1097 522h2V538h-2zM1101 544h3V558h-3zM1106 559h2V575h-2zM1110 562h3V577h-3zM1115 538h2V554h-2zM1119 519h3V537h-3zM1124 526h2V535h-2zM1128 502h3V512h-3zM1133 482h2V491h-2zM1137 520h3V535h-3zM1142 471h3V485h-3zM1146 485h3V501h-3zM1151 473h3V486h-3zM1155 482h3V495h-3zM1160 476h3V489h-3zM1164 478h3V489h-3zM1169 483h3V504h-3zM1173 472h3V485h-3zM1178 465h3V481h-3zM1182 471h3V481h-3zM1187 460h3V474h-3zM1191 456h3V473h-3zM1196 462h3V474h-3zM1200 465h3V480h-3zM1205 463h3V482h-3zM1209 467h3V480h-3zM1214 463h3V478h-3zM1218 465h3V479h-3zM1223 466h3V484h-3zM1228 465h2V479h-2zM1232 463h3V477h-3zM1237 477h2V489h-2zM1241 463h3V476h-3zM1246 466h2V481h-2zM1250 463h3V477h-3zM1255 456h2V469h-2zM1259 465h3V479h-3zM1264 460h2V475h-2zM1268 466h3V481h-3zM1273 459h3V474h-3zM1277 463h3V477h-3zM1282 456h3V469h-3zM1286 463h3V479h-3zM1291 467h3V484h-3zM1295 460h3V472h-3zM1300 475h3V489h-3zM1304 462h3V478h-3zM1309 465h3V479h-3zM1313 468h3V482h-3zM1318 467h3V481h-3zM1322 463h3V480h-3zM1327 462h3V478h-3zM1331 473h3V482h-3zM1336 488h3V502h-3zM1340 482h3V490h-3zM1345 468h3V479h-3zM1349 465h3V475h-3zM1354 463h3V465h-3zM1359 467h2V475h-2zM1363 456h3V460h-3zM1368 482h2V490h-2zM1372 460h3V474h-3zM1377 462h2V471h-2zM1381 471h3V484h-3zM1386 480h2V496h-2zM1390 463h3V474h-3zM1395 478h2V489h-2zM1399 462h3V472h-3zM1404 459h3V474h-3zM1408 488h3V497h-3zM1413 500h3V510h-3zM1417 563h3V574h-3zM1422 526h3V541h-3zM1426 493h3V509h-3zM1431 480h3V489h-3zM1435 488h3V507h-3zM1440 482h3V539h-3zM1444 476h3V496h-3zM1449 480h3V501h-3zM1453 484h3V500h-3zM1458 474h3V493h-3zM1462 474h3V485h-3zM1467 483h3V496h-3zM1471 493h3V509h-3zM1476 487h3V502h-3zM1480 485h3V500h-3zM1485 491h3V510h-3zM1490 481h2V495h-2zM1494 512h3V529h-3zM1499 510h2V524h-2zM1503 493h3V511h-3zM1508 518h2V533h-2zM1512 527h3V539h-3zM1517 540h2V559h-2zM1521 540h3V559h-3zM1526 568h2V584h-2zM1530 583h3V598h-3zM1535 604h3V619h-3zM1539 642h3V659h-3zM1544 671h3V686h-3zM1548 642h3V658h-3zM1553 657h3V680h-3zM1557 595h3V612h-3zM1562 593h3V618h-3zM1566 605h3V631h-3zM1571 563h3V593h-3zM1575 559h3V583h-3zM1580 490h3V520h-3zM1584 525h3V548h-3zM1589 494h3V519h-3zM1593 489h3V514h-3zM1598 514h3V539h-3zM1602 494h3V522h-3zM1607 484h3V509h-3zM1611 507h3V529h-3zM1616 500h3V527h-3zM1621 483h2V517h-2zM1625 521h3V539h-3zM1630 523h2V544h-2zM1634 496h3V521h-3zM1639 512h2V529h-2zM1643 512h3V539h-3zM1648 506h2V522h-2zM1652 486h3V519h-3zM1657 507h2V541h-2zM1661 473h3V509h-3z" fill="#FFC000" shape-rendering="crispEdges"/>
<path d="M101 455H1665V457H101z" fill="#D9D9D9" shape-rendering="crispEdges"/>
<path d="M101 455h2v7h-2zM128 455h2v7h-2zM155 455h2v7h-2zM182 455h2v7h-2zM209 455h2v7h-2zM236 455h2v7h-2zM264 455h2v7h-2zM291 455h2v7h-2zM318 455h2v7h-2zM345 455h2v7h-2zM372 455h2v7h-2zM399 455h2v7h-2zM426 455h2v7h-2zM453 455h2v7h-2zM480 455h2v7h-2zM507 455h2v7h-2zM535 455h2v7h-2zM562 455h2v7h-2zM589 455h2v7h-2zM616 455h2v7h-2zM643 455h2v7h-2zM670 455h2v7h-2zM697 455h2v7h-2zM724 455h2v7h-2zM751 455h2v7h-2zM778 455h2v7h-2zM806 455h2v7h-2zM833 455h2v7h-2zM860 455h2v7h-2zM887 455h2v7h-2zM914 455h2v7h-2zM941 455h2v7h-2zM968 455h2v7h-2zM995 455h2v7h-2zM1022 455h2v7h-2zM1050 455h2v7h-2zM1077 455h2v7h-2zM1104 455h2v7h-2zM1131 455h2v7h-2zM1158 455h2v7h-2zM1185 455h2v7h-2zM1212 455h2v7h-2zM1239 455h2v7h-2zM1266 455h2v7h-2zM1293 455h2v7h-2zM1321 455h2v7h-2zM1348 455h2v7h-2zM1375 455h2v7h-2zM1402 455h2v7h-2zM1429 455h2v7h-2zM1456 455h2v7h-2zM1483 455h2v7h-2zM1510 455h2v7h-2zM1537 455h2v7h-2zM1564 455h2v7h-2zM1592 455h2v7h-2zM1619 455h2v7h-2zM1646 455h2v7h-2z" fill="#D9D9D9" shape-rendering="crispEdges"/>
<path d="M104.7 409.83 L109.22 402.34 L113.73 382.87 L118.25 402.34 L122.77 417.31 L127.29 413.57 L131.8 407.83 L136.32 406.83 L140.84 407.33 L145.35 409.33 L149.87 404.83 L154.39 390.36 L158.9 399.84 L163.42 406.83 L167.94 399.84 L172.46 373.64 L176.97 377.38 L181.49 378.13 L186.01 387.86 L190.52 383.62 L195.04 378.63 L199.56 354.92 L204.07 355.42 L208.59 354.42 L213.11 369.89 L217.63 338.69 L222.14 352.42 L226.66 368.64 L231.18 337.94 L235.69 355.42 L240.21 352.92 L244.73 346.93 L249.24 347.93 L253.76 359.41 L258.28 362.4 L262.8 347.43 L267.31 354.42 L271.83 387.36 L276.35 370.39 L280.86 382.37 L285.38 356.16 L289.9 355.42 L294.41 353.67 L298.93 372.39 L303.45 362.4 L307.97 359.91 L312.48 371.14 L317 362.4 L321.52 353.67 L326.03 357.41 L330.55 371.14 L335.07 351.92 L339.59 355.42 L344.1 341.94 L348.62 353.67 L353.14 349.92 L357.65 364.9 L362.17 368.64 L366.69 364.9 L371.2 386.11 L375.72 389.36 L380.24 372.39 L384.76 373.64 L389.27 378.63 L393.79 406.08 L398.31 399.84 L402.82 394.85 L407.34 391.11 L411.86 377.88 L416.37 376.88 L420.89 364.4 L425.41 377.38 L429.93 363.65 L434.44 376.13 L438.96 326.21 L443.48 366.9 L447.99 363.65 L452.51 341.94 L457.03 362.4 L461.54 368.64 L466.06 370.39 L470.58 360.41 L475.1 361.16 L479.61 371.14 L484.13 370.39 L488.65 369.89 L493.16 358.66 L497.68 347.93 L502.2 333.7 L506.71 346.93 L511.23 334.95 L515.75 334.45 L520.27 331.95 L524.78 329.96 L529.3 323.22 L533.82 344.43 L538.33 309.99 L542.85 314.48 L547.37 337.44 L551.88 311.99 L556.4 301.5 L560.92 329.46 L565.44 320.72 L569.95 314.48 L574.47 328.96 L578.99 330.96 L583.5 333.45 L588.02 311.49 L592.54 330.96 L597.06 320.72 L601.57 348.93 L606.09 321.97 L610.61 335.7 L615.12 329.96 L619.64 329.96 L624.16 340.69 L628.67 333.95 L633.19 319.47 L637.71 324.47 L642.23 292.02 L646.74 316.48 L651.26 316.48 L655.78 318.23 L660.29 338.19 L664.81 329.46 L669.33 318.23 L673.84 309.99 L678.36 318.23 L682.88 341.94 L687.4 306.99 L691.91 297.01 L696.43 287.53 L700.95 286.53 L705.46 308.24 L709.98 264.07 L714.5 269.56 L719.01 297.01 L723.53 294.52 L728.05 308.24 L732.57 273.3 L737.08 283.28 L741.6 263.32 L746.12 292.52 L750.63 290.77 L755.15 292.02 L759.67 316.48 L764.18 300.01 L768.7 344.43 L773.22 326.96 L777.74 373.14 L782.25 352.42 L786.77 383.12 L791.29 391.86 L795.8 371.39 L800.32 399.84 L804.84 406.83 L809.36 423.05 L813.87 396.85 L818.39 385.62 L822.91 380.62 L827.42 364.4 L831.94 310.74 L836.46 351.42 L840.97 339.44 L845.49 360.66 L850.01 316.48 L854.53 306.99 L859.04 329.46 L863.56 309.49 L868.08 336.95 L872.59 295.76 L877.11 304.5 L881.63 337.44 L886.14 326.96 L890.66 315.73 L895.18 323.22 L899.7 316.48 L904.21 307.49 L908.73 311.99 L913.25 302.5 L917.76 326.96 L922.28 335.7 L926.8 371.89 L931.31 413.07 L935.83 406.83 L940.35 378.54 L944.87 388.4 L949.38 392.06 L953.9 365.75 L958.42 397.17 L962.93 408.5 L967.45 395.71 L971.97 416.9 L976.48 388.77 L981 420.92 L985.52 410.69 L990.04 424.58 L994.55 420.92 L999.07 416.9 L1003.59 413.98 L1008.1 472.08 L1012.62 401.92 L1017.14 423.48 L1021.66 428.23 L1026.17 410.32 L1030.69 443.21 L1035.21 435.9 L1039.72 366.48 L1044.24 399.73 L1048.76 412.15 L1053.27 414.71 L1057.79 435.9 L1062.31 433.35 L1066.83 440.65 L1071.34 461.12 L1075.86 435.9 L1080.38 484.87 L1084.89 448.33 L1089.41 515.93 L1093.93 428.23 L1098.44 410.32 L1102.96 430.79 L1107.48 440.65 L1112 443.21 L1116.51 403.38 L1121.03 369.77 L1125.55 392.06 L1130.06 355.88 L1134.58 351.5 L1139.1 399.73 L1143.61 315.32 L1148.13 350.4 L1152.65 327.38 L1157.17 343.82 L1161.68 333.59 L1166.2 339.07 L1170.72 378.9 L1175.23 337.25 L1179.75 333.59 L1184.27 319.71 L1188.78 315.32 L1193.3 317.15 L1197.82 303.99 L1202.34 317.88 L1206.85 317.15 L1211.37 316.05 L1215.89 321.53 L1220.4 316.42 L1224.92 317.88 L1229.44 319.71 L1233.95 312.4 L1238.47 310.57 L1242.99 328.11 L1247.51 259.78 L1252.02 300.34 L1256.54 304.72 L1261.06 328.11 L1265.57 325.55 L1270.09 289.01 L1274.61 283.9 L1279.13 301.44 L1283.64 274.76 L1288.16 317.15 L1292.68 332.13 L1297.19 298.51 L1301.71 354.78 L1306.23 302.9 L1310.74 291.2 L1315.26 316.05 L1319.78 321.53 L1324.3 323.36 L1328.81 345.28 L1333.33 334.69 L1337.85 354.78 L1342.36 349.67 L1346.88 349.67 L1351.4 313.86 L1355.91 323.36 L1360.43 331.4 L1364.95 313.86 L1369.47 351.86 L1373.98 319.34 L1378.5 324.82 L1383.02 348.57 L1387.53 360.27 L1392.05 333.59 L1396.57 349.3 L1401.08 327.38 L1405.6 311.3 L1410.12 288.65 L1414.64 372.32 L1419.15 432.25 L1423.67 411.06 L1428.19 389.86 L1432.7 380.36 L1437.22 339.8 L1441.74 353.69 L1446.25 311.3 L1450.77 302.53 L1455.29 297.42 L1459.81 301.44 L1464.32 286.45 L1468.84 319.34 L1473.36 281.34 L1477.87 283.9 L1482.39 305.09 L1486.91 320.07 L1491.43 339.8 L1495.94 350.4 L1500.46 336.15 L1504.98 322.99 L1509.49 343.82 L1514.01 365.02 L1518.53 359.9 L1523.04 282.44 L1527.56 351.86 L1532.08 414.71 L1536.6 371.23 L1541.11 456.73 L1545.63 459.65 L1550.15 422.38 L1554.66 470.98 L1559.18 333.59 L1563.7 351.86 L1568.21 434.44 L1572.73 361 L1577.25 359.9 L1581.77 286.45 L1586.28 321.17 L1590.8 302.53 L1595.32 281.34 L1599.83 316.05 L1604.35 284.99 L1608.87 236.39 L1613.38 299.97 L1617.9 313.86 L1622.42 267.45 L1626.94 346.01 L1631.45 298.88 L1635.97 265.63 L1640.49 277.68 L1645 313.86 L1649.52 246.26 L1654.04 230.18 L1658.55 365.38 L1663.07 283.17" stroke="#000" stroke-width="5.3" stroke-linejoin="round" stroke-linecap="round" fill="none"/>
<path d="M154.39 405.16 L158.9 404.1 L163.42 404.37 L167.94 405.74 L172.46 403.18 L176.97 399.53 L181.49 396.33 L186.01 394.7 L190.52 392.84 L195.04 390.42 L199.56 385.73 L204.07 381.76 L208.59 378.93 L213.11 376.35 L217.63 370.66 L222.14 366.65 L226.66 366.28 L231.18 363.19 L235.69 361.31 L240.21 358.46 L244.73 355.7 L249.24 353.27 L253.76 353.89 L258.28 354.37 L262.8 353.74 L267.31 352.4 L271.83 356.38 L276.35 357.84 L280.86 358.99 L285.38 360.37 L289.9 360.54 L294.41 360.63 L298.93 362.66 L303.45 363.91 L307.97 363.81 L312.48 364.57 L317 365.67 L321.52 365.54 L326.03 362.98 L330.55 363.2 L335.07 360.55 L339.59 360.64 L344.1 359.49 L348.62 359.62 L353.14 357.86 L357.65 358.19 L362.17 358.78 L366.69 358.23 L371.2 360.16 L375.72 363.2 L380.24 364.41 L384.76 364.36 L389.27 366.41 L393.79 370.45 L398.31 375.35 L402.82 378.73 L407.34 382.06 L411.86 383.17 L416.37 384.15 L420.89 384.04 L425.41 383.72 L429.93 381.43 L434.44 381.65 L438.96 377.79 L443.48 376.89 L447.99 373.37 L452.51 368.73 L457.03 365.93 L461.54 364.25 L466.06 363.89 L470.58 362.45 L475.1 362.25 L479.61 361.55 L484.13 362.02 L488.65 361.46 L493.16 364.02 L497.68 362.44 L502.2 359.92 L506.71 360.2 L511.23 357.92 L515.75 355.16 L520.27 351.84 L524.78 349.42 L529.3 346.15 L533.82 343.79 L538.33 338.7 L542.85 334.05 L547.37 332.18 L551.88 329.14 L556.4 326.44 L560.92 325.05 L565.44 324.08 L569.95 322.48 L574.47 322.33 L578.99 322.38 L583.5 323.28 L588.02 320.52 L592.54 322.22 L597.06 322.66 L601.57 323.64 L606.09 324.34 L610.61 327.32 L615.12 327.32 L619.64 328.11 L624.16 330.32 L628.67 330.78 L633.19 329.84 L637.71 329.1 L642.23 327.6 L646.74 326.5 L651.26 326.12 L655.78 323.52 L660.29 324.87 L664.81 324.47 L669.33 323.53 L673.84 321.71 L678.36 319.88 L682.88 320.43 L687.4 319.43 L691.91 317 L696.43 316.33 L700.95 313.87 L705.46 313.25 L709.98 308.73 L714.5 303.1 L719.01 300.31 L723.53 298.53 L728.05 298.66 L732.57 295.11 L737.08 290.29 L741.6 286.77 L746.12 286.62 L750.63 287.23 L755.15 287.51 L759.67 288.02 L764.18 290.62 L768.7 296.77 L773.22 299.14 L777.74 305.55 L782.25 308.78 L786.77 317.93 L791.29 326.94 L795.8 335.92 L800.32 344.69 L804.84 354.22 L809.36 365.07 L813.87 371.85 L818.39 379.15 L822.91 382.13 L827.42 385.48 L831.94 380.36 L836.46 380.56 L840.97 377.32 L845.49 375.11 L850.01 371.04 L854.53 363.66 L859.04 357.45 L863.56 348.14 L868.08 343.21 L872.59 335.25 L877.11 328.64 L881.63 325.77 L886.14 326.97 L890.66 323.91 L895.18 322.45 L899.7 318.61 L904.21 318 L908.73 318.6 L913.25 316.73 L917.76 318.14 L922.28 317.8 L926.8 324.15 L931.31 333.4 L935.83 339.29 L940.35 343.53 L944.87 349.6 L949.38 355.75 L953.9 360.26 L958.42 367.92 L962.93 375.68 L967.45 383.21 L971.97 390.58 L976.48 394.61 L981 398.11 L985.52 397.55 L990.04 398.78 L994.55 402.23 L999.07 404.79 L1003.59 406.63 L1008.1 415.38 L1012.62 416.02 L1017.14 417.15 L1021.66 419.91 L1026.17 419.38 L1030.69 423.88 L1035.21 425 L1039.72 421.56 L1044.24 419.35 L1048.76 418.9 L1053.27 418.72 L1057.79 420.55 L1062.31 417.32 L1066.83 420.49 L1071.34 423.44 L1075.86 424.15 L1080.38 430.28 L1084.89 430.77 L1089.41 437.51 L1093.93 442.54 L1098.44 443.61 L1102.96 445.3 L1107.48 447.53 L1112 448.24 L1116.51 445.5 L1121.03 439.72 L1125.55 434.03 L1130.06 427.22 L1134.58 415.82 L1139.1 411.39 L1143.61 394.15 L1148.13 387.55 L1152.65 380.52 L1157.17 373.19 L1161.68 364.26 L1166.2 355.85 L1170.72 354.03 L1175.23 351.67 L1179.75 347.13 L1184.27 343.98 L1188.78 341.08 L1193.3 334.2 L1197.82 333.16 L1202.34 330.42 L1206.85 329.37 L1211.37 327.03 L1215.89 326.07 L1220.4 324.09 L1224.92 319.1 L1229.44 317.76 L1233.95 316.25 L1238.47 315.78 L1242.99 316.83 L1247.51 312.08 L1252.02 311.84 L1256.54 310.79 L1261.06 311.7 L1265.57 312.22 L1270.09 309.57 L1274.61 307.05 L1279.13 305.77 L1283.64 302.12 L1288.16 302.39 L1292.68 304.26 L1297.19 301.98 L1301.71 309.82 L1306.23 309.98 L1310.74 309 L1315.26 307.89 L1319.78 307.69 L1324.3 310.09 L1328.81 314.98 L1333.33 317.63 L1337.85 324.09 L1342.36 326.67 L1346.88 328.17 L1351.4 329.46 L1355.91 327.16 L1360.43 329.68 L1364.95 331.67 L1369.47 334.69 L1373.98 334.55 L1378.5 334.86 L1383.02 335.13 L1387.53 337.34 L1392.05 335.66 L1396.57 335.62 L1401.08 333.81 L1405.6 333.48 L1410.12 330.46 L1414.64 333.85 L1419.15 343.73 L1423.67 348.7 L1428.19 354.74 L1432.7 359.33 L1437.22 358.65 L1441.74 358.16 L1446.25 356.48 L1450.77 352.66 L1455.29 350.2 L1459.81 349.41 L1464.32 349.69 L1468.84 345.39 L1473.36 332.85 L1477.87 322.15 L1482.39 314.99 L1486.91 309.83 L1491.43 309.71 L1495.94 309.05 L1500.46 310.99 L1504.98 312.42 L1509.49 316.24 L1514.01 321.61 L1518.53 328.04 L1523.04 325.02 L1527.56 330.58 L1532.08 340.99 L1536.6 346.81 L1541.11 358.29 L1545.63 368.29 L1550.15 374.12 L1554.66 385.27 L1559.18 386.64 L1563.7 387.82 L1568.21 393.46 L1572.73 393.46 L1577.25 399.8 L1581.77 394.1 L1586.28 386.46 L1590.8 380.54 L1595.32 366 L1599.83 354.1 L1604.35 342.76 L1608.87 323.33 L1613.38 320.74 L1617.9 317.53 L1622.42 303.53 L1626.94 302.17 L1631.45 296.95 L1635.97 295.02 L1640.49 291.35 L1645 292.19 L1649.52 289.13 L1654.04 282.03 L1658.55 288.69 L1663.07 292.59" stroke="#70AD47" stroke-width="5.2" stroke-linejoin="round" stroke-linecap="round" fill="none"/>
<g font-size="15.4" fill="#595959"><g transform="translate(110.3 808.3) rotate(-90)"><text x="0" y="0" textLength="47.57" lengthAdjust="spacingAndGlyphs">Jan-96</text></g><g transform="translate(137.4 808.3) rotate(-90)"><text x="5" y="0" textLength="42.57" lengthAdjust="spacingAndGlyphs">Jul-96</text></g><g transform="translate(164.5 808.3) rotate(-90)"><text x="0" y="0" textLength="47.57" lengthAdjust="spacingAndGlyphs">Jan-97</text></g><g transform="translate(191.61 808.3) rotate(-90)"><text x="5" y="0" textLength="42.57" lengthAdjust="spacingAndGlyphs">Jul-97</text></g><g transform="translate(218.71 808.3) rotate(-90)"><text x="0" y="0" textLength="47.57" lengthAdjust="spacingAndGlyphs">Jan-98</text></g><g transform="translate(245.81 808.3) rotate(-90)"><text x="5" y="0" textLength="42.57" lengthAdjust="spacingAndGlyphs">Jul-98</text></g><g transform="translate(272.91 808.3) rotate(-90)"><text x="0" y="0" textLength="47.57" lengthAdjust="spacingAndGlyphs">Jan-99</text></g><g transform="translate(300.01 808.3) rotate(-90)"><text x="5" y="0" textLength="42.57" lengthAdjust="spacingAndGlyphs">Jul-99</text></g><g transform="translate(327.12 808.3) rotate(-90)"><text x="0" y="0" textLength="47.57" lengthAdjust="spacingAndGlyphs">Jan-00</text></g><g transform="translate(354.22 808.3) rotate(-90)"><text x="5" y="0" textLength="42.57" lengthAdjust="spacingAndGlyphs">Jul-00</text></g><g transform="translate(381.32 808.3) rotate(-90)"><text x="0" y="0" textLength="47.57" lengthAdjust="spacingAndGlyphs">Jan-01</text></g><g transform="translate(408.42 808.3) rotate(-90)"><text x="5" y="0" textLength="42.57" lengthAdjust="spacingAndGlyphs">Jul-01</text></g><g transform="translate(435.53 808.3) rotate(-90)"><text x="0" y="0" textLength="47.57" lengthAdjust="spacingAndGlyphs">Jan-02</text></g><g transform="translate(462.63 808.3) rotate(-90)"><text x="5" y="0" textLength="42.57" lengthAdjust="spacingAndGlyphs">Jul-02</text></g><g transform="translate(489.73 808.3) rotate(-90)"><text x="0" y="0" textLength="47.57" lengthAdjust="spacingAndGlyphs">Jan-03</text></g><g transform="translate(516.83 808.3) rotate(-90)"><text x="5" y="0" textLength="42.57" lengthAdjust="spacingAndGlyphs">Jul-03</text></g><g transform="translate(543.93 808.3) rotate(-90)"><text x="0" y="0" textLength="46.56" lengthAdjust="spacingAndGlyphs">Jan-04</text></g><g transform="translate(571.04 808.3) rotate(-90)"><text x="5" y="0" textLength="41.56" lengthAdjust="spacingAndGlyphs">Jul-04</text></g><g transform="translate(598.14 808.3) rotate(-90)"><text x="0" y="0" textLength="47.57" lengthAdjust="spacingAndGlyphs">Jan-05</text></g><g transform="translate(625.24 808.3) rotate(-90)"><text x="5" y="0" textLength="42.57" lengthAdjust="spacingAndGlyphs">Jul-05</text></g><g transform="translate(652.34 808.3) rotate(-90)"><text x="0" y="0" textLength="47.57" lengthAdjust="spacingAndGlyphs">Jan-06</text></g><g transform="translate(679.44 808.3) rotate(-90)"><text x="5" y="0" textLength="42.57" lengthAdjust="spacingAndGlyphs">Jul-06</text></g><g transform="translate(706.55 808.3) rotate(-90)"><text x="0" y="0" textLength="47.57" lengthAdjust="spacingAndGlyphs">Jan-07</text></g><g transform="translate(733.65 808.3) rotate(-90)"><text x="5" y="0" textLength="42.57" lengthAdjust="spacingAndGlyphs">Jul-07</text></g><g transform="translate(760.75 808.3) rotate(-90)"><text x="0" y="0" textLength="47.57" lengthAdjust="spacingAndGlyphs">Jan-08</text></g><g transform="translate(787.85 808.3) rotate(-90)"><text x="5" y="0" textLength="42.57" lengthAdjust="spacingAndGlyphs">Jul-08</text></g><g transform="translate(814.96 808.3) rotate(-90)"><text x="0" y="0" textLength="47.57" lengthAdjust="spacingAndGlyphs">Jan-09</text></g><g transform="translate(842.06 808.3) rotate(-90)"><text x="5" y="0" textLength="42.57" lengthAdjust="spacingAndGlyphs">Jul-09</text></g><g transform="translate(869.16 808.3) rotate(-90)"><text x="0" y="0" textLength="47.57" lengthAdjust="spacingAndGlyphs">Jan-10</text></g><g transform="translate(896.26 808.3) rotate(-90)"><text x="5" y="0" textLength="42.57" lengthAdjust="spacingAndGlyphs">Jul-10</text></g><g transform="translate(923.36 808.3) rotate(-90)"><text x="0" y="0" textLength="47.58" lengthAdjust="spacingAndGlyphs">Jan-11</text></g><g transform="translate(950.47 808.3) rotate(-90)"><text x="5" y="0" textLength="42.58" lengthAdjust="spacingAndGlyphs">Jul-11</text></g><g transform="translate(977.57 808.3) rotate(-90)"><text x="0" y="0" textLength="47.57" lengthAdjust="spacingAndGlyphs">Jan-12</text></g><g transform="translate(1004.67 808.3) rotate(-90)"><text x="5" y="0" textLength="42.57" lengthAdjust="spacingAndGlyphs">Jul-12</text></g><g transform="translate(1031.77 808.3) rotate(-90)"><text x="0" y="0" textLength="47.57" lengthAdjust="spacingAndGlyphs">Jan-13</text></g><g transform="translate(1058.87 808.3) rotate(-90)"><text x="5" y="0" textLength="42.57" lengthAdjust="spacingAndGlyphs">Jul-13</text></g><g transform="translate(1085.98 808.3) rotate(-90)"><text x="0" y="0" textLength="46.56" lengthAdjust="spacingAndGlyphs">Jan-14</text></g><g transform="translate(1113.08 808.3) rotate(-90)"><text x="5" y="0" textLength="41.56" lengthAdjust="spacingAndGlyphs">Jul-14</text></g><g transform="translate(1140.18 808.3) rotate(-90)"><text x="0" y="0" textLength="47.57" lengthAdjust="spacingAndGlyphs">Jan-15</text></g><g transform="translate(1167.28 808.3) rotate(-90)"><text x="5" y="0" textLength="42.57" lengthAdjust="spacingAndGlyphs">Jul-15</text></g><g transform="translate(1194.38 808.3) rotate(-90)"><text x="0" y="0" textLength="47.57" lengthAdjust="spacingAndGlyphs">Jan-16</text></g><g transform="translate(1221.49 808.3) rotate(-90)"><text x="5" y="0" textLength="42.57" lengthAdjust="spacingAndGlyphs">Jul-16</text></g><g transform="translate(1248.59 808.3) rotate(-90)"><text x="0" y="0" textLength="47.57" lengthAdjust="spacingAndGlyphs">Jan-17</text></g><g transform="translate(1275.69 808.3) rotate(-90)"><text x="5" y="0" textLength="42.57" lengthAdjust="spacingAndGlyphs">Jul-17</text></g><g transform="translate(1302.79 808.3) rotate(-90)"><text x="0" y="0" textLength="47.57" lengthAdjust="spacingAndGlyphs">Jan-18</text></g><g transform="translate(1329.9 808.3) rotate(-90)"><text x="5" y="0" textLength="42.57" lengthAdjust="spacingAndGlyphs">Jul-18</text></g><g transform="translate(1357 808.3) rotate(-90)"><text x="0" y="0" textLength="47.57" lengthAdjust="spacingAndGlyphs">Jan-19</text></g><g transform="translate(1384.1 808.3) rotate(-90)"><text x="5" y="0" textLength="42.57" lengthAdjust="spacingAndGlyphs">Jul-19</text></g><g transform="translate(1411.2 808.3) rotate(-90)"><text x="0" y="0" textLength="47.57" lengthAdjust="spacingAndGlyphs">Jan-20</text></g><g transform="translate(1438.3 808.3) rotate(-90)"><text x="5" y="0" textLength="42.57" lengthAdjust="spacingAndGlyphs">Jul-20</text></g><g transform="translate(1465.41 808.3) rotate(-90)"><text x="0" y="0" textLength="47.57" lengthAdjust="spacingAndGlyphs">Jan-21</text></g><g transform="translate(1492.51 808.3) rotate(-90)"><text x="5" y="0" textLength="42.57" lengthAdjust="spacingAndGlyphs">Jul-21</text></g><g transform="translate(1519.61 808.3) rotate(-90)"><text x="0" y="0" textLength="47.57" lengthAdjust="spacingAndGlyphs">Jan-22</text></g><g transform="translate(1546.71 808.3) rotate(-90)"><text x="5" y="0" textLength="42.57" lengthAdjust="spacingAndGlyphs">Jul-22</text></g><g transform="translate(1573.81 808.3) rotate(-90)"><text x="0" y="0" textLength="47.57" lengthAdjust="spacingAndGlyphs">Jan-23</text></g><g transform="translate(1600.92 808.3) rotate(-90)"><text x="5" y="0" textLength="42.57" lengthAdjust="spacingAndGlyphs">Jul-23</text></g><g transform="translate(1628.02 808.3) rotate(-90)"><text x="0" y="0" textLength="46.56" lengthAdjust="spacingAndGlyphs">Jan-24</text></g><g transform="translate(1655.12 808.3) rotate(-90)"><text x="5" y="0" textLength="41.56" lengthAdjust="spacingAndGlyphs">Jul-24</text></g></g>
<g font-size="17.7" font-weight="bold" fill="#000"><text x="1373.4" y="850.4" textLength="68.83" lengthAdjust="spacingAndGlyphs">Source:</text><text x="1446.25" y="850.4" textLength="61.18" lengthAdjust="spacingAndGlyphs">Exante</text><text x="1513.47" y="850.4" textLength="48.86" lengthAdjust="spacingAndGlyphs">Data,</text><text x="1567.18" y="850.4" textLength="106.52" lengthAdjust="spacingAndGlyphs">Macrobond</text></g>
</svg>
</body></html>
